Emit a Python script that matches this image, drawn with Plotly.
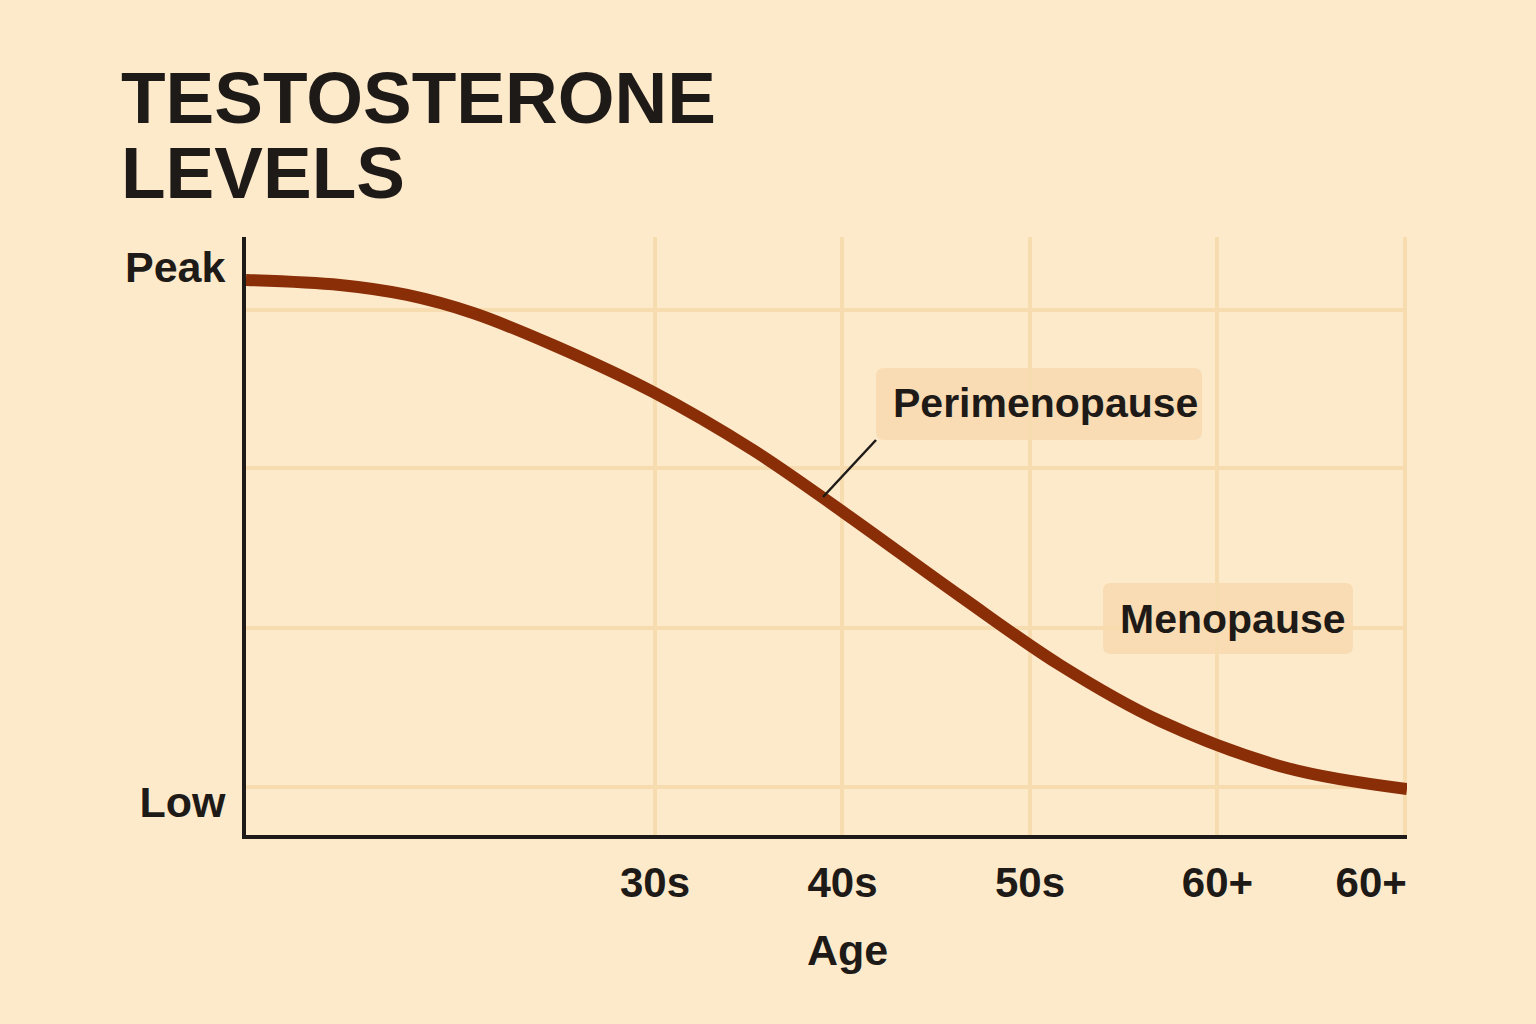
import plotly.graph_objects as go

# ---- data ----
ages = [8.19, 13.20, 16.78, 20.30, 24.56, 29.90, 35.23, 40.03, 46.27, 51.60, 56.94, 63.71, 70.11]
levels = [94.07, 93.22, 91.53, 88.47, 83.05, 75.08, 65.25, 54.75, 40.51, 28.81, 19.32, 11.36, 7.80]

x_tick_vals = [30, 40, 50, 60, 68.2]
x_tick_text = ["30s", "40s", "50s", "60+", "60+"]
x_grid_vals = [30, 40, 50, 60, 70]

y_tick_vals = [5.6, 96.3]
y_tick_text = ["Low", "Peak"]
y_grid_vals = [8.1, 35.1, 62.2, 89.0]

title_lines = ["TESTOSTERONE", "LEVELS"]
x_title = "Age"
labels = ["Perimenopause", "Menopause"]

# ---- style ----
W, H = 1536, 1024
L, R, T, B = 246, 1407, 237, 835
XR = [8.19, 70.11]
YR = [0, 101.36]
BG = "#FDEACB"
GRID = "#F7DCAF"
BOX = "#F9DCB3"
INK = "#1E1A17"
LINE = "#8A2E08"
FONT = "Liberation Sans, Arial, sans-serif"


def px2x(px):
    return XR[0] + (px - L) / (R - L) * (XR[1] - XR[0])


def px2y(py):
    return YR[0] + (B - py) / (B - T) * (YR[1] - YR[0])


def px2paper_x(px):
    return (px - L) / (R - L)


def px2paper_y(py):
    return (B - py) / (B - T)


def rounded_rect(x0, y0, x1, y1, r):
    p = lambda a, b: f"{px2x(a):.4f},{px2y(b):.4f}"
    return (f"M {p(x0 + r, y0)} L {p(x1 - r, y0)} Q {p(x1, y0)} {p(x1, y0 + r)} "
            f"L {p(x1, y1 - r)} Q {p(x1, y1)} {p(x1 - r, y1)} "
            f"L {p(x0 + r, y1)} Q {p(x0, y1)} {p(x0, y1 - r)} "
            f"L {p(x0, y0 + r)} Q {p(x0, y0)} {p(x0 + r, y0)} Z")


fig = go.Figure()
fig.add_trace(go.Scatter(
    x=ages, y=levels, mode="lines",
    line=dict(color=LINE, width=12, shape="spline", smoothing=1.0),
    hoverinfo="skip", showlegend=False,
))

shapes = [
    dict(type="path", path=rounded_rect(876, 368, 1202, 440, 8), xref="x", yref="y",
         fillcolor=BOX, line=dict(width=0), layer="below"),
    dict(type="path", path=rounded_rect(1103, 583, 1353, 654, 8), xref="x", yref="y",
         fillcolor=BOX, line=dict(width=0), layer="below"),
    dict(type="line", xref="x", yref="y", x0=px2x(823), y0=px2y(497), x1=px2x(876), y1=px2y(440),
         line=dict(color=INK, width=2.5)),
]

annotations = [
    dict(text=title_lines[0], xref="paper", yref="paper", x=px2paper_x(119), y=px2paper_y(97),
         xanchor="left", yanchor="middle", showarrow=False, height=72,
         font=dict(family=FONT, size=73, color=INK, weight="bold")),
    dict(text=title_lines[1], xref="paper", yref="paper", x=px2paper_x(119), y=px2paper_y(172),
         xanchor="left", yanchor="middle", showarrow=False, height=72,
         font=dict(family=FONT, size=73, color=INK, weight="bold")),
    dict(text=labels[0], xref="x", yref="y", x=px2x(1045), y=px2y(403),
         xanchor="center", yanchor="middle", showarrow=False,
         font=dict(family=FONT, size=41, color=INK, weight="bold")),
    dict(text=labels[1], xref="x", yref="y", x=px2x(1233), y=px2y(619),
         xanchor="center", yanchor="middle", showarrow=False,
         font=dict(family=FONT, size=41, color=INK, weight="bold")),
    dict(text=x_title, xref="paper", yref="paper", x=px2paper_x(847), y=px2paper_y(950),
         xanchor="center", yanchor="middle", showarrow=False,
         font=dict(family=FONT, size=43, color=INK, weight="bold")),
]

fig.update_layout(
    width=W, height=H,
    paper_bgcolor=BG, plot_bgcolor=BG,
    margin=dict(l=L, r=W - R, t=T, b=H - B, pad=0),
    shapes=shapes, annotations=annotations,
    showlegend=False,
    xaxis=dict(
        range=XR, showgrid=False, zeroline=False,
        showline=True, linecolor=INK, linewidth=4,
        tickmode="array", tickvals=x_tick_vals, ticktext=x_tick_text,
        ticks="", ticklabelstandoff=8,
        tickfont=dict(family=FONT, size=42, color=INK, weight="bold"),
        minor=dict(tickmode="array", tickvals=x_grid_vals, showgrid=True,
                   gridcolor=GRID, gridwidth=4, ticks=""),
        fixedrange=True,
    ),
    yaxis=dict(
        range=YR, showgrid=False, zeroline=False,
        showline=True, linecolor=INK, linewidth=4,
        tickmode="array", tickvals=y_tick_vals, ticktext=y_tick_text,
        ticks="", ticklabelstandoff=8,
        tickfont=dict(family=FONT, size=43, color=INK, weight="bold"),
        minor=dict(tickmode="array", tickvals=y_grid_vals, showgrid=True,
                   gridcolor=GRID, gridwidth=4, ticks=""),
        fixedrange=True,
    ),
)

fig.write_html("out.html", config=dict(displayModeBar=False))
